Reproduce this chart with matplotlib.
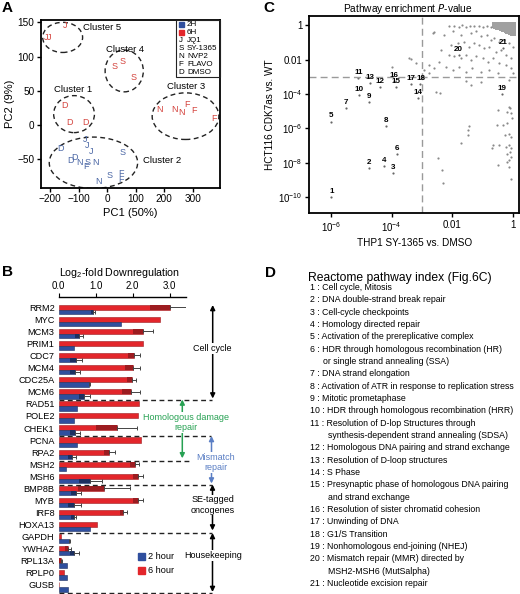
import numpy as np
import matplotlib
matplotlib.use("Agg")
import matplotlib.pyplot as plt
from matplotlib.patches import Ellipse, Rectangle, FancyArrowPatch

plt.rcParams['font.family'] = ['Liberation Sans', 'DejaVu Sans']
plt.rcParams['mathtext.default'] = 'regular'

# ---------------- panel A data (PCA) ----------------
pca_x = [-147, -213, -202, 25, 55, 92, -150, -132, -77, 183, 235, 261, 279, 305, 376,
         -165, -116, -128, -77, -69, -57, -98, -42, -31, -68, 55, 10, -75, 48, 48]
pca_y = [146, 128, 128, 85, 93, 69, 29, 4, 4, 23, 23, 18, 30, 22, 10,
         -34, -47, -52, -21, -30, -38, -55, -55, -83, -55, -40, -74, -60, -71, -79]
pca_letter = ['J', 'J', 'J', 'S', 'S', 'S', 'D', 'D', 'D', 'N', 'N', 'N', 'F', 'F', 'F',
              'D', 'D', 'D', 'J', 'J', 'J', 'N', 'N', 'N', 'S', 'S', 'S', 'F', 'F', 'F']
pca_time = ['6H'] * 15 + ['2H'] * 15
cluster_names = ['Cluster 1', 'Cluster 2', 'Cluster 3', 'Cluster 4', 'Cluster 5']
drug_keys = ['J', 'S', 'N', 'F', 'D']
drug_names = ['JQ1', 'SY-1365', 'NVP2', 'FLAVO', 'DMSO']

# ---------------- panel B data (qPCR) ----------------
genes = ['RRM2', 'MYC', 'MCM3', 'PRIM1', 'CDC7', 'MCM4', 'CDC25A', 'MCM6', 'RAD51', 'POLE2',
         'CHEK1', 'PCNA', 'RPA2', 'MSH2', 'MSH6', 'BMP8B', 'MYB', 'IRF8', 'HOXA13', 'GAPDH',
         'YWHAZ', 'RPL13A', 'RPLP0', 'GUSB']
down_6h = [3.0, 2.74, 2.27, 2.27, 2.04, 2.0, 1.97, 1.95, 2.17, 2.14, 1.57, 2.23, 1.37, 2.06,
           2.15, 1.22, 2.15, 1.75, 1.03, 0.06, 0.24, 0.06, 0.13, 0.01]
err_6h = [0.52, 0, 0.27, 0, 0.17, 0.2, 0.12, 0.25, 0, 0, 0.55, 0, 0.15, 0.12, 0.13, 0.7,
          0.13, 0.1, 0, 0, 0.08, 0.04, 0, 0]
down_2h = [0.92, 1.68, 0.55, 0.41, 0.46, 0.44, 0.83, 0.69, 0.5, 0.42, 0.44, 0.5, 0.35, 0.2,
           0.85, 0.46, 0.42, 0.4, 0.85, 0.29, 0.42, 0.23, 0.23, 0.26]
err_2h = [0.05, 0, 0.1, 0, 0.16, 0.14, 0.02, 0.15, 0, 0, 0.13, 0, 0.11, 0, 0.31, 0.14,
          0.18, 0.07, 0, 0.02, 0.12, 0, 0, 0]

# ---------------- panel C data (log10 p-values) ----------------
bg_logx = [-2.1, -1.93, -1.79, -1.66, -1.55, -1.42, -1.27, -1.1, -0.99, -0.86, -0.72,
           -2.65, -2.26, -1.99, -1.71, -1.38, -1.21, -1.05, -0.86, -0.72, -0.61, -0.44, -0.28, -0.11, 0.0,
           -2.04, -1.82, -1.6, -1.44, -1.27, -1.1, -0.94, -0.77, -0.55, -0.39, -0.22, -0.06,
           -2.1, -1.93, -1.71, -1.55, -1.38, -1.21, -0.99, -0.83, -0.66, -0.44, -0.22, -0.06,
           -2.76, -2.59, -2.43, -2.21, -1.99, -1.77, -1.55, -1.33, -1.05, -0.77, -0.5, 0.0,
           -3.42, -3.2, -2.92, -2.76, -2.37, -2.59, -3.37, -4.0,
           -2.54, -2.41, -1.55, -1.38, -1.05, -0.11,
           -0.135, -0.09, -0.2, -0.06, -0.02, -0.5, -0.31, -0.2, -0.11, -0.24, -0.53, -0.06,
           -0.135, -0.06, -0.64, -0.69, -0.44, -0.22, -0.09, -0.2, -0.06, -0.135, -0.2, -0.11,
           -0.5, -0.06, -1.46, -1.48, -1.49, -1.71, -2.48, -2.34, -2.32]
bg_logy = [-0.05, -0.02, -0.08, 0.0, -0.1, -0.03, -0.06, -0.02, -0.12, -0.04, -0.08,
           -0.45, -0.55, -0.35, -0.55, -0.45, -0.35, -0.64, -0.55, -0.84, -0.74, -0.94, -0.84, -1.03, -1.23,
           -1.13, -1.03, -0.94, -1.23, -1.03, -1.13, -1.33, -1.23, -1.52, -1.42, -1.72, -1.91,
           -1.72, -1.81, -1.91, -1.72, -2.01, -1.81, -1.91, -2.11, -1.91, -2.2, -2.3, -2.5,
           -2.3, -2.5, -2.11, -2.4, -2.59, -2.4, -2.69, -2.5, -2.69, -2.59, -2.79, -2.79,
           -1.91, -2.2, -2.59, -2.79, -1.42, -0.39, -1.95, -2.45,
           -3.9, -3.96, -3.24, -3.47, -3.31, -3.18,
           -4.74, -4.83, -5.03, -5.13, -5.42, -4.93, -5.81, -5.71, -6.3, -6.39, -5.81, -6.49,
           -6.98, -7.17, -6.94, -7.13, -6.94, -7.08, -7.37, -7.47, -7.66, -7.86, -7.95, -8.25,
           -8.15, -8.93, -5.85, -6.1, -6.39, -6.88, -7.72, -8.4, -9.18]
# dense cloud of non-significant pathways in the top-right corner
cloud_logx = [-0.6, -0.55, -0.5, -0.45, -0.4, -0.4, -0.35, -0.3, -0.3, -0.3, -0.25, -0.2, -0.2,
              -0.2, -0.15, -0.15, -0.1, -0.1, -0.1, -0.1, -0.05, -0.05, -0.05, 0.0, 0.0, 0.0,
              0.0, 0.0, -0.25, -0.35, -0.45, -0.15, -0.5, -0.05]
cloud_logy = [0.0, -0.05, 0.0, -0.05, 0.0, -0.1, -0.05, 0.0, -0.1, -0.2, -0.05, 0.0, -0.15,
              -0.25, -0.05, -0.3, 0.0, -0.1, -0.2, -0.35, -0.05, -0.25, -0.4, 0.0, -0.1, -0.2,
              -0.3, -0.45, -0.15, -0.15, -0.1, -0.2, -0.08, -0.12]
lab_num = list(range(1, 22))
lab_logx = [-6.0, -4.74, -3.97, -4.26, -6.0, -3.84, -5.51, -4.19, -4.77, -5.07, -5.11,
            -4.39, -4.71, -3.12, -3.86, -3.94, -3.36, -3.05, -0.35, -1.79, -0.31]
lab_logy = [-10.0, -8.3, -8.58, -8.2, -5.6, -7.52, -4.83, -5.87, -4.44, -4.05, -3.08,
            -3.57, -3.37, -4.25, -3.57, -3.22, -3.43, -3.4, -4.0, -1.72, -1.33]

# ---------------- panel D data ----------------
pathways = [
    "Cell cycle, Mitosis",
    "DNA double-strand break repair",
    "Cell-cycle checkpoints",
    "Homology directed repair",
    "Activation of the prereplicative complex",
    "HDR through homologous recombination (HR)\nor single strand annealing (SSA)",
    "DNA strand elongation",
    "Activation of ATR in response to replication stress",
    "Mitotic prometaphase",
    "HDR through homologous recombination (HRR)",
    "Resolution of D-lop Structures through\nsynthesis-dependent strand annealing (SDSA)",
    "Homologous DNA pairing and strand exchange",
    "Resolution of D-loop structures",
    "S Phase",
    "Presynaptic phase of homologous DNA pairing\nand strand exchange",
    "Resolution of sister chromatid cohesion",
    "Unwinding of DNA",
    "G1/S Transition",
    "Nonhomologous end-joining (NHEJ)",
    "Mismatch repair (MMR) directed by\nMSH2-MSH6 (MutSalpha)",
    "Nucleotide excision repair",
]

W, H = 520, 594
RED = '#e3262b'
DRED = '#9c1c20'
BLUE = '#2f4f9e'
DBLUE = '#1c2f60'
TXT_RED = '#d4433d'
TXT_BLUE = '#4b67a5'
GREEN = '#27a153'
MBLUE = '#5a7ec4'


def fx(px):
    return px / W


def fy(py):
    return 1 - py / H


def px_axes(left, top, right, bottom):
    return fig.add_axes([fx(left), fy(bottom), (right - left) / W, (bottom - top) / H])


def arrow(x, y0, y1, col):
    fig.add_artist(FancyArrowPatch(
        (fx(x), fy(y0)), (fx(x), fy(y1)), transform=fig.transFigure, arrowstyle='<|-|>',
        mutation_scale=7, color=col, lw=1.1, shrinkA=0, shrinkB=0))


fig = plt.figure(figsize=(5.2, 5.94), dpi=100)

# panel letters
for letter, (lx, ly) in zip('ABCD', [(2, 8), (2, 272), (263, 8), (265, 273)]):
    fig.text(fx(lx), fy(ly), letter, fontsize=11, fontweight='bold', va='center')

# ================= A =================
axA = px_axes(40.7, 20, 220, 187.7)
for x, y, l, t in zip(pca_x, pca_y, pca_letter, pca_time):
    axA.text(x, y, l, color=TXT_RED if t == '6H' else TXT_BLUE, ha='center', va='center',
             fontsize=6.5)
ellipses = [(-116, 16, 143, 54), (-48, -55, 310, 75), (275, 13, 234, 68),
            (60, 79, 134, 61), (-156, 128, 140, 44)]
for cx, cy, w, h in ellipses:
    axA.add_patch(Ellipse((cx, cy), w, h, fill=False, ls=(0, (3.5, 2.5)), lw=1, color='#222'))
cl_pos = [(-118, 52, 'center'), (125, -52, 'left'), (277, 57, 'center'),
          (63, 110, 'center'), (-83, 142, 'left')]
for name, (cx, cy, ha) in zip(cluster_names, cl_pos):
    axA.text(cx, cy, name, fontsize=6.8, ha=ha, va='center')
axA.set_xlim(-233, 396)
axA.set_ylim(-91.4, 153.4)
axA.set_xticks([-200, -100, 0, 100, 200, 300])
axA.set_yticks([-50, 0, 50, 100, 150])
axA.tick_params(labelsize=7.2, length=3, width=1, pad=1.5)
for s in axA.spines.values():
    s.set_linewidth(1.3)
axA.set_xlabel('PC1 (50%)', fontsize=8, labelpad=3)
axA.set_ylabel('PC2 (9%)', fontsize=8, labelpad=2)

# legend of panel A
fig.patches.append(Rectangle((fx(175.7), fy(77)), (220 - 175.7) / W, 57 / H, fill=False,
                             lw=0.8, ec='#222', transform=fig.transFigure))
for i, (col, lab) in enumerate([(BLUE, '2H'), (RED, '6H')]):
    yy = 24.7 + 7.6 * i
    fig.patches.append(Rectangle((fx(178.5), fy(yy + 2.5)), 5 / W, 5 / H, color=col,
                                 transform=fig.transFigure))
    fig.text(fx(187), fy(yy), lab, fontsize=5.8, va='center')
for i, (k, lab) in enumerate(zip(drug_keys, drug_names)):
    yy = 41 + 8 * i
    fig.text(fx(181), fy(yy), k, fontsize=5.8, va='center', ha='center')
    fig.text(fx(187), fy(yy), lab, fontsize=5.8, va='center')

# ================= B =================
axB = px_axes(58.7, 296.7, 58.7 + 3.45 * 37, 594)
rows = np.arange(len(genes))
axB.barh(rows - 0.21, down_6h, height=0.42, color=RED, ec=DRED, lw=0.4)
axB.barh(rows + 0.18, down_2h, height=0.36, color=BLUE, ec=DBLUE, lw=0.4)
for i in rows:
    if err_6h[i] > 0:
        axB.barh(i - 0.21, err_6h[i], left=down_6h[i] - err_6h[i], height=0.42, color=DRED, lw=0)
        axB.errorbar(down_6h[i], i - 0.21, xerr=[[0], [err_6h[i]]], color='#444', lw=0.7,
                     capsize=1.6, capthick=0.7)
    if err_2h[i] > 0:
        axB.barh(i + 0.18, err_2h[i], left=down_2h[i] - err_2h[i], height=0.36, color=DBLUE, lw=0)
        axB.errorbar(down_2h[i], i + 0.18, xerr=[[0], [err_2h[i]]], color='#444', lw=0.7,
                     capsize=1.4, capthick=0.7)
axB.set_xlim(0, 3.45)
axB.set_ylim(23.55, -1.08)
axB.xaxis.tick_top()
axB.set_xticks([0, 1, 2, 3])
axB.set_xticklabels(['0.0', '1.0', '2.0', '3.0'])
axB.set_yticks(rows - 0.2)
axB.set_yticklabels(genes)
axB.tick_params(axis='y', length=0, labelsize=6.6, pad=3)
axB.tick_params(axis='x', labelsize=7, length=3, pad=1)
for side in ['left', 'right', 'bottom']:
    axB.spines[side].set_visible(False)
axB.spines['top'].set_linewidth(1)
fig.text(fx(120), fy(273.5), 'Log$_2$-fold Downregulation', fontsize=7.7, ha='center', va='center')

for yline, xend in [(7.5, 4.14), (10.5, 4.12), (12.5, 3.58), (14.5, 4.14), (18.5, 4.14), (23.45, 4.14)]:
    axB.plot([0, xend], [yline, yline], ls=(0, (3.5, 2.5)), color='#222', lw=1, clip_on=False)

arrow(212.7, 305, 398.5, 'black')
arrow(182.3, 399.5, 458.3, GREEN)
arrow(211.5, 436, 483.5, MBLUE)
arrow(212.5, 484.5, 530.5, 'black')
arrow(212.5, 533, 592, 'black')
wb = dict(facecolor='white', edgecolor='none', pad=0.6)
fig.text(fx(212.7), fy(348.3), 'Cell cycle', fontsize=6.5, ha='center', va='center', bbox=wb)
fig.text(fx(186), fy(422.3), 'Homologous damage\nrepair', fontsize=6.5, ha='center',
         va='center', color=GREEN, bbox=wb, linespacing=1.15)
fig.text(fx(216), fy(462.5), 'Mismatch\nrepair', fontsize=6.5, ha='center', va='center',
         color=MBLUE, bbox=wb, linespacing=1.15)
fig.text(fx(212.5), fy(505), 'SE-tagged\noncogenes', fontsize=6.5, ha='center', va='center',
         bbox=wb, linespacing=1.15)
fig.text(fx(213), fy(555.7), 'Housekeeping', fontsize=6.5, ha='center', va='center', bbox=wb)
for i, (col, lab) in enumerate([(BLUE, '2 hour'), (RED, '6 hour')]):
    yy = 556.7 + 14 * i
    fig.patches.append(Rectangle((fx(138), fy(yy + 3.5)), 7 / W, 7 / H, color=col,
                                 transform=fig.transFigure))
    fig.text(fx(148), fy(yy), lab, fontsize=6.6, va='center')

# ================= C =================
axC = px_axes(309.3, 16, 519, 213.3)
axC.set_xscale('log')
axC.set_yscale('log')
axC.scatter(10 ** np.array(cloud_logx), 10 ** np.array(cloud_logy), s=22, marker='s',
            color='#a0a0a0', lw=0)
axC.scatter(10 ** np.array(bg_logx), 10 ** np.array(bg_logy), s=2.5, color='#8a8a8a', lw=0)
axC.scatter(10 ** np.array(lab_logx), 10 ** np.array(lab_logy), s=2.5, color='#666', lw=0)
for n, lx, ly in zip(lab_num, lab_logx, lab_logy):
    axC.annotate(str(n), (10 ** lx, 10 ** ly), xytext=(0, 4), textcoords='offset points',
                 ha='center', va='center', fontsize=5.8, fontweight='bold')
axC.axvline(1e-3, color='#9a9a9a', ls=(0, (5, 3)), lw=1)
axC.axhline(1e-3, color='#9a9a9a', ls=(0, (5, 3)), lw=1)
axC.set_xlim(10 ** -6.73, 10 ** 0.21)
axC.set_ylim(10 ** -10.95, 10 ** 0.55)
axC.set_xticks([1e-6, 1e-4, 1e-2, 1])
axC.set_xticklabels(['$10^{-6}$', '$10^{-4}$', '0.01', '1'])
axC.set_yticks([1e-10, 1e-8, 1e-6, 1e-4, 1e-2, 1])
axC.set_yticklabels(['$10^{-10}$', '$10^{-8}$', '$10^{-6}$', '$10^{-4}$', '0.01', '1'])
axC.minorticks_off()
axC.tick_params(labelsize=7, length=3, width=1, pad=2)
for s in axC.spines.values():
    s.set_linewidth(1.3)
axC.set_xlabel('THP1 SY-1365 vs. DMSO', fontsize=7.2, labelpad=3)
axC.set_ylabel('HCT116 CDK7as vs. WT', fontsize=7.2, labelpad=2)
fig.text(fx(408), fy(9), 'Pathway enrichment $\\it{P}$-value', fontsize=7.3, ha='center',
         va='center')

# ================= D =================
fig.text(fx(308), fy(277.5), 'Reactome pathway index (Fig.6C)', fontsize=8.7, va='center')
line = 0
for i, name in enumerate(pathways, start=1):
    parts = name.split('\n')
    yy = 287.5 + 12.33 * line
    fig.text(fx(310), fy(yy), f'{i} : {parts[0]}', fontsize=6.3, va='center')
    for extra in parts[1:]:
        line += 1
        yy = 287.5 + 12.33 * line
        fig.text(fx(323 if i < 10 else 328), fy(yy), extra, fontsize=6.3, va='center')
    line += 1

fig.savefig('out.png', dpi=100)
